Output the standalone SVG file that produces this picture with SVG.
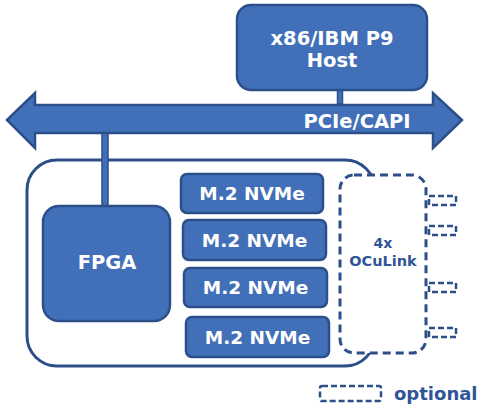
<svg xmlns="http://www.w3.org/2000/svg" width="482" height="410" viewBox="0 0 482 410">
<style>
.box{fill:#4270b8;stroke:#2c4f8a;stroke-width:2.5}
.wt{fill:#fff;font-family:"DejaVu Sans",sans-serif;font-weight:bold;text-anchor:middle}
.dash{fill:#fff;stroke:#2c4f8a;stroke-width:3;stroke-dasharray:8 5}
.sd{fill:none;stroke:#2c4f8a;stroke-width:2.5;stroke-dasharray:6 3}
.bt{fill:#2f5597;font-family:"DejaVu Sans",sans-serif;font-weight:bold}
</style>
<rect width="482" height="410" fill="#fff"/>
<g id="board">
<rect x="27" y="160" width="348" height="206" rx="30" fill="#fff" stroke="#2c4f8a" stroke-width="3"/>
</g>
<g id="connectors">
<rect x="337.5" y="88" width="5" height="16" fill="#4270b8" stroke="#2c4f8a" stroke-width="1.5"/>
<rect x="102" y="132" width="6" height="76" fill="#4270b8" stroke="#2c4f8a" stroke-width="1.5"/>
</g>
<g id="bus">
<path class="box" d="M7 120 L35 93 L35 105 L433 105 L433 93 L462 120 L433 148 L433 133 L35 133 L35 148 Z"/>
<text class="wt" x="357" y="128" font-size="19.5">PCIe/CAPI</text>
</g>
<g id="host">
<rect class="box" x="237" y="5" width="190" height="85" rx="14"/>
<text class="wt" x="332" y="45" font-size="19.5">x86/IBM P9</text>
<text class="wt" x="332" y="67" font-size="19.5">Host</text>
</g>
<g id="fpga">
<rect class="box" x="43" y="206" width="127" height="115" rx="16"/>
<text class="wt" x="107" y="269" font-size="19.5">FPGA</text>
</g>
<g id="nvme1">
<rect class="box" x="181" y="174" width="142" height="39" rx="6"/>
<text class="wt" x="252" y="200" font-size="18.5">M.2 NVMe</text>
</g>
<g id="nvme2">
<rect class="box" x="183" y="220" width="143" height="40" rx="6"/>
<text class="wt" x="254.5" y="247" font-size="18.5">M.2 NVMe</text>
</g>
<g id="nvme3">
<rect class="box" x="184" y="268" width="143" height="39" rx="6"/>
<text class="wt" x="255.5" y="294" font-size="18.5">M.2 NVMe</text>
</g>
<g id="nvme4">
<rect class="box" x="186" y="317" width="143" height="40" rx="6"/>
<text class="wt" x="257.5" y="344" font-size="18.5">M.2 NVMe</text>
</g>
<g id="oculink">
<rect class="dash" x="340" y="175" width="86" height="178" rx="14"/>
<text class="bt" x="383" y="248" font-size="14" text-anchor="middle">4x</text>
<text class="bt" x="383" y="266" font-size="14.5" text-anchor="middle">OCuLink</text>
<rect class="sd" x="429" y="196" width="27" height="9"/>
<rect class="sd" x="429" y="226" width="27" height="9"/>
<rect class="sd" x="429" y="283" width="27" height="9"/>
<rect class="sd" x="429" y="328" width="27" height="9"/>
</g>
<g id="legend">
<rect class="sd" x="320" y="386" width="61" height="15" rx="2" stroke-width="3" stroke-dasharray="9 4"/>
<text class="bt" x="394" y="400" font-size="18">optional</text>
</g>
</svg>
